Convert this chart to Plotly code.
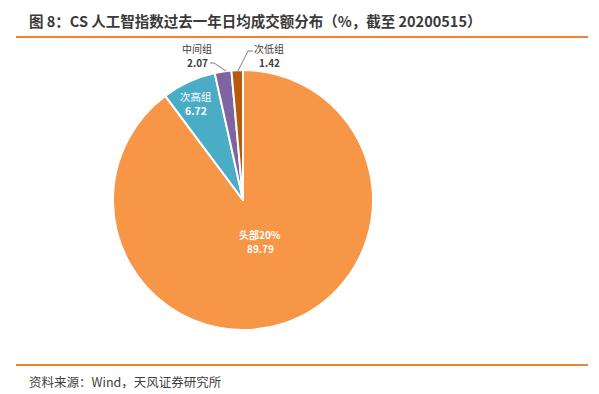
import plotly.graph_objects as go

categories = ["头部20%", "次高组", "中间组", "次低组"]
values = [89.79, 6.72, 2.07, 1.42]
colors = ["#F79646", "#4BACC6", "#8064A2", "#B65A0C"]

W, H = 599, 394
cx, cy, r = 243, 200, 130

def px(x):
    return x / W

def py(y):
    return 1 - y / H

fig = go.Figure(go.Pie(
    labels=categories,
    values=values,
    textinfo="none",
    sort=False,
    direction="clockwise",
    rotation=0,
    marker=dict(colors=colors, line=dict(color="white", width=2)),
    domain=dict(x=[px(cx - r), px(cx + r)], y=[py(cy + r), py(cy - r)]),
    showlegend=False,
    hoverinfo="label+value",
))

font_lbl = dict(family="Noto Sans CJK SC", size=10, color="#404040")
font_in = dict(family="Noto Sans CJK SC", size=10, color="white")
font_in2 = dict(family="Noto Sans CJK SC", size=10.5, color="white")

def label(x, y, name, val, font, gap=14.5):
    return [
        dict(x=px(x), y=py(y), xref="paper", yref="paper", xanchor="center", yanchor="middle",
             text=name, showarrow=False, font=font, borderpad=0),
        dict(x=px(x), y=py(y + gap), xref="paper", yref="paper", xanchor="center", yanchor="middle",
             text=f"<b>{val:.2f}</b>", showarrow=False, font=font, borderpad=0),
    ]

anns = []
anns += label(260, 234, f"<b>{categories[0]}</b>", values[0], font_in, 14)
anns += label(196, 96, categories[1], values[1], font_in2, 14.5)
anns += label(197, 48, categories[2], values[2], font_lbl, 14)
anns += label(269, 48, categories[3], values[3], font_lbl, 14)

shapes = [
    dict(type="line", xref="paper", yref="paper", x0=px(16), x1=px(588), y0=py(37), y1=py(37),
         line=dict(color="#F08326", width=2)),
    dict(type="line", xref="paper", yref="paper", x0=px(16), x1=px(588), y0=py(365), y1=py(365),
         line=dict(color="#F08326", width=2)),
    dict(type="path", xref="paper", yref="paper",
         path=f"M {px(210)} {py(63)} L {px(214)} {py(63)} L {px(226)} {py(71)}",
         line=dict(color="#7F7F7F", width=1)),
    dict(type="path", xref="paper", yref="paper",
         path=f"M {px(253)} {py(51)} L {px(248)} {py(51)} L {px(238)} {py(71)}",
         line=dict(color="#7F7F7F", width=1)),
]

anns += [
    dict(x=px(27), y=py(20), xref="paper", yref="paper", xanchor="left", yanchor="middle",
         text="<b>图 8：CS 人工智指数过去一年日均成交额分布（%，截至 20200515）</b>",
         showarrow=False, font=dict(family="Noto Sans CJK SC", size=14.5, color="#3A3A3A")),
    dict(x=px(27), y=py(381), xref="paper", yref="paper", xanchor="left", yanchor="middle",
         text="资料来源：Wind，天风证券研究所",
         showarrow=False, font=dict(family="Noto Sans CJK SC", size=12.5, color="#404040")),
]

fig.update_layout(
    width=W, height=H,
    margin=dict(l=0, r=0, t=0, b=0),
    paper_bgcolor="white",
    shapes=shapes,
    annotations=anns,
)

fig.write_html("out.html", config={"displayModeBar": False},
               post_script="document.body.style.margin='0';")
